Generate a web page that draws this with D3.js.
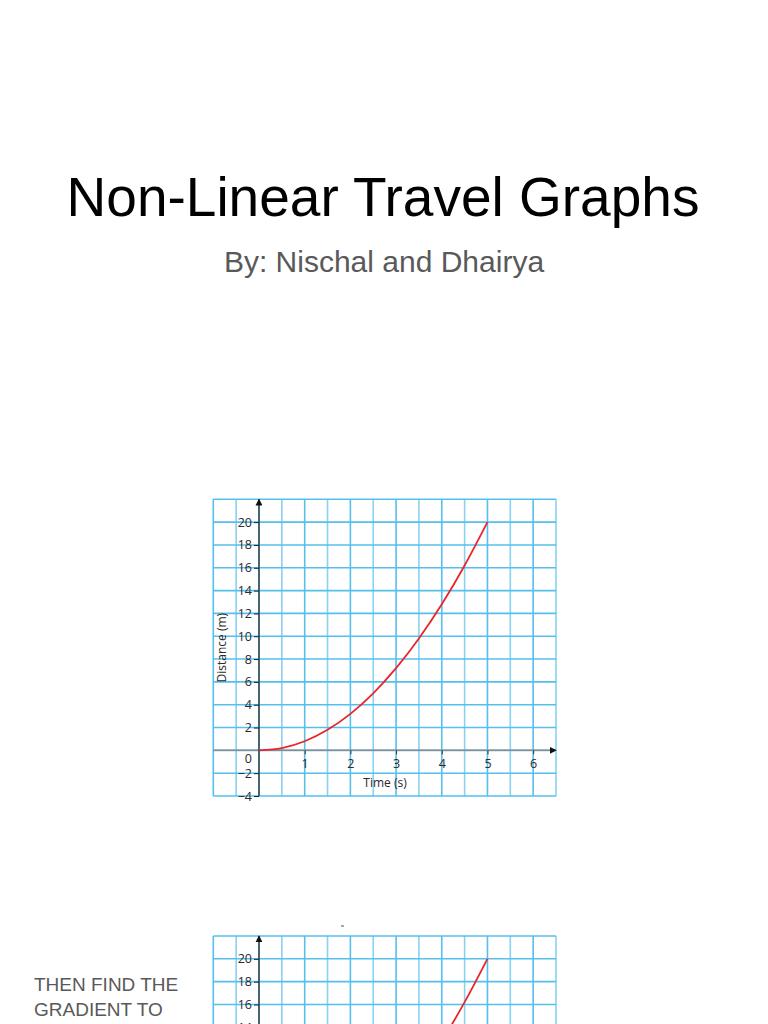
<!DOCTYPE html>
<html>
<head>
<meta charset="utf-8">
<script src="https://cdn.jsdelivr.net/npm/d3@7"></script>
<style>
  html, body { margin: 0; padding: 0; background: #fff; overflow: hidden; }
  svg { display: block; }
</style>
</head>
<body>
<div id="page"></div>
<script>
// values
const timeValues = [0, 0.5, 1, 1.5, 2, 2.5, 3, 3.5, 4, 4.5, 5];
const distanceValues = [0, 0.2, 0.8, 1.8, 3.2, 5, 7.2, 9.8, 12.8, 16.2, 20];
const xTicks = [1, 2, 3, 4, 5, 6];
const yTicks = [-4, -2, 0, 2, 4, 6, 8, 10, 12, 14, 16, 18, 20];
const xGrid = [-1, -0.5, 0, 0.5, 1, 1.5, 2, 2.5, 3, 3.5, 4, 4.5, 5, 5.5, 6, 6.5];
const yGrid = [-4, -2, 0, 2, 4, 6, 8, 10, 12, 14, 16, 18, 20, 22];

const width = 768, height = 1024;
const labelFont = "'Open Sans', sans-serif";

const svg = d3.select("#page").append("svg")
  .attr("width", width)
  .attr("height", height);

svg.append("defs").append("marker")
  .attr("id", "arrow")
  .attr("viewBox", "0 0 10 10")
  .attr("refX", 9).attr("refY", 5)
  .attr("markerWidth", 7).attr("markerHeight", 7)
  .attr("markerUnits", "userSpaceOnUse")
  .attr("orient", "auto")
  .append("path")
  .attr("d", "M0,0L10,5L0,10z")
  .attr("fill", "#111");

// title block
svg.append("text")
  .attr("x", 383).attr("y", 216)
  .attr("text-anchor", "middle")
  .style("font-family", "'Liberation Sans', Arial, sans-serif")
  .style("font-size", "55px")
  .attr("fill", "#000")
  .text("Non-Linear Travel Graphs");

svg.append("text")
  .attr("x", 384).attr("y", 272)
  .attr("text-anchor", "middle")
  .style("font-family", "'Liberation Sans', Arial, sans-serif")
  .style("font-size", "30px")
  .attr("fill", "#595959")
  .text("By: Nischal and Dhairya");

const note = svg.append("text")
  .attr("x", 34).attr("y", 991)
  .style("font-family", "'Liberation Sans', Arial, sans-serif")
  .style("font-size", "19px")
  .attr("fill", "#595959");
note.append("tspan").attr("x", 34).text("THEN FIND THE");
note.append("tspan").attr("x", 34).attr("dy", 25).text("GRADIENT TO");

// small dash above second graph
svg.append("line")
  .attr("x1", 341).attr("x2", 344)
  .attr("y1", 926).attr("y2", 926)
  .attr("stroke", "#555").attr("stroke-width", 1);

function drawGraph(top) {
  const g = svg.append("g");

  const x = d3.scaleLinear().domain([-1, 6.5]).range([213.3, 556]);
  const y = d3.scaleLinear().domain([-4, 22]).range([top + 296.7, top]);

  // grid
  g.append("g").selectAll("line")
    .data(xGrid)
    .join("line")
    .attr("x1", d => x(d)).attr("x2", d => x(d))
    .attr("y1", y(-4)).attr("y2", y(22))
    .attr("stroke", d => Number.isInteger(d) ? "#55bfee" : "#88d2f3")
    .attr("stroke-width", 1.6);

  g.append("g").selectAll("line")
    .data(yGrid)
    .join("line")
    .attr("x1", x(-1)).attr("x2", x(6.5))
    .attr("y1", d => y(d)).attr("y2", d => y(d))
    .attr("stroke", "#55bfee")
    .attr("stroke-width", 1.6);

  // x axis line (grey) with arrow
  g.append("line")
    .attr("x1", x(-1)).attr("x2", x(6.5))
    .attr("y1", y(0)).attr("y2", y(0))
    .attr("stroke", "#8c8c8c")
    .attr("stroke-width", 1.5)
    .attr("marker-end", "url(#arrow)");

  // y axis line with arrow
  g.append("line")
    .attr("x1", x(0)).attr("x2", x(0))
    .attr("y1", y(-4)).attr("y2", y(22))
    .attr("stroke", "#222")
    .attr("stroke-width", 1.2)
    .attr("marker-end", "url(#arrow)");

  // only the ticks that land on the page get labels
  const visibleY = yTicks.filter(d => y(d) < height + 6);

  const yAxis = g.append("g")
    .attr("transform", `translate(${x(0)},0)`)
    .call(d3.axisLeft(y).tickValues(visibleY).tickSize(5).tickPadding(2)
      .tickFormat(d => d < 0 ? "\u2212" + Math.abs(d) : d));
  yAxis.select(".domain").remove();
  yAxis.selectAll(".tick line").attr("stroke", "#222");
  yAxis.selectAll(".tick text")
    .attr("fill", "#2a2a2a")
    .style("font-family", labelFont)
    .style("font-size", "12.5px");
  const zeroTick = yAxis.selectAll(".tick").filter(d => d === 0);
  zeroTick.select("text").attr("dy", "0.95em");
  zeroTick.select("line").remove();

  if (y(0) < height) {
    const xAxis = g.append("g")
      .attr("transform", `translate(0,${y(0)})`)
      .call(d3.axisBottom(x).tickValues(xTicks).tickSize(4).tickPadding(5));
    xAxis.select(".domain").remove();
    xAxis.selectAll(".tick line").attr("stroke", "#333");
    xAxis.selectAll(".tick text")
      .attr("fill", "#2a2a2a")
      .style("font-family", labelFont)
      .style("font-size", "12.5px");

    g.append("text")
      .attr("x", 385).attr("y", y(-3.2))
      .attr("text-anchor", "middle")
      .style("font-family", labelFont)
      .style("font-size", "12px")
      .attr("fill", "#2a2a2a")
      .text("Time (s)");

    g.append("text")
      .attr("transform", `translate(226,${y(9)}) rotate(-90)`)
      .attr("text-anchor", "middle")
      .style("font-family", labelFont)
      .style("font-size", "12px")
      .attr("fill", "#2a2a2a")
      .text("Distance (m)");
  }

  // distance-time curve
  const line = d3.line()
    .x((d, i) => x(timeValues[i]))
    .y(d => y(d))
    .curve(d3.curveMonotoneX);

  g.append("path")
    .datum(distanceValues)
    .attr("d", line)
    .attr("fill", "none")
    .attr("stroke", "#e8262b")
    .attr("stroke-width", 1.8);
}

drawGraph(499.3);
drawGraph(936);
</script>
</body>
</html>
